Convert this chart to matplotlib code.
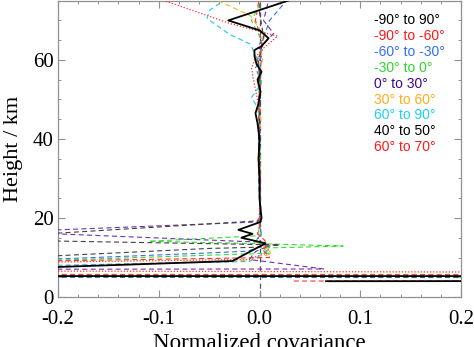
import numpy as np
import matplotlib
matplotlib.use("Agg")
import matplotlib.pyplot as plt
from matplotlib.ticker import MultipleLocator

# legend labels and colours
labels = ["-90° to 90°", "-90° to -60°", "-60° to -30°", "-30° to 0°", "0° to 30°",
          "30° to 60°", "60° to 90°", "40° to 50°", "60° to 70°"]
text_colors = ["black", "#ff1a1a", "#2f6ff5", "#2ed62e", "#3a0a90",
               "#ffae1a", "#1ed2f2", "black", "#ff1a1a"]
line_colors = ["black", "#ff3030", "#3070f0", "#33dd33", "#7030b0",
               "#ffb020", "#20c8f0", "#404040", "#ff3030"]

# height (km) / normalized covariance profiles
h1 = [4.0, 4.15, 5.25, 5.35, 5.45, 9.1, 13.6, 15.0, 16.0, 17.0, 19.0, 20.0, 25, 30, 35, 40, 44, 46.5,
      49, 52, 55, 57, 59, 61, 62.5, 63.5, 65.5, 67.5, 70, 76]
x1 = [0.066, 0.8, 3.0, -3.0, -0.45, -0.027, 0.006, -0.018, -0.007, -0.021, 0.001, 0.002, 0.0, 0.0,
      -0.001, 0.0, -0.002, -0.004, -0.001, 0.001, -0.002, 0.002, -0.003, -0.005, -0.005, 0.002,
      0.009, 0.0, -0.031, 0.04]

h2 = [6.0, 6.9, 9.5, 11, 12.5, 14, 16, 18, 20, 25, 30, 35, 40, 45, 50, 55, 58, 61, 63, 66, 69.2, 75.5]
x2 = [0.8, -0.8, -0.012, 0.006, 0.01, -0.004, 0.002, 0.0, 0.0, 0.001, 0.0, -0.001, 0.0, 0.001,
      -0.002, -0.006, -0.008, -0.003, 0.004, 0.018, -0.029, -0.1]

h3 = [4.9, 5.3, 6.6, 11.1, 11.6, 13, 14.5, 16, 18, 20, 25, 30, 35, 40, 45, 50, 55, 58, 61, 64, 67,
      70, 73, 76]
x3 = [1.2, -1.2, -0.5, -0.056, -0.012, 0.004, -0.003, 0.002, 0.0, 0.001, 0.0, -0.001, 0.0, 0.001,
      0.0, -0.001, 0.001, -0.004, 0.002, 0.0, 0.006, 0.01, 0.02, 0.03]

h4 = [5.2, 5.5, 8.5, 11.1, 12.4, 12.9, 13.5, 14.1, 15.5, 18, 20, 25, 30, 35, 40, 45, 50, 55, 60, 63,
      66, 70, 73, 76]
x4 = [1.0, -1.0, -0.3, 0.011, 0.003, 0.083, 0.0, -0.11, -0.002, 0.0, 0.001, 0.0, 0.0, 0.001, 0.0,
      -0.001, 0.0, 0.002, -0.003, 0.004, 0.0, -0.008, -0.002, 0.004]

h5 = [5.1, 5.4, 6.9, 7.1, 9.5, 11.5, 12.8, 13.9, 16.5, 19.0, 21, 25, 30, 35, 40, 45, 50, 55, 60, 63,
      66.7, 70, 76]
x5 = [1.0, -1.0, -0.8, 0.064, -0.01, -0.004, 0.008, 0.0, -0.25, -0.002, 0.0, 0.001, 0.0, -0.001,
      0.0, 0.001, 0.0, -0.001, 0.002, 0.0, 0.014, 0.004, 0.01]

h6 = [5.6, 5.9, 6.5, 9.3, 11, 12.6, 14, 16, 18, 20, 25, 30, 35, 40, 45, 50, 55, 60, 63, 66, 69,
      71.2, 75.5]
x6 = [1.5, -1.5, -0.4, -0.009, 0.012, 0.006, -0.004, 0.001, 0.0, 0.0, 0.001, 0.0, -0.001, 0.0,
      0.001, 0.0, -0.002, 0.003, 0.001, 0.005, -0.003, -0.009, -0.045]

h7 = [4.8, 5.1, 6.5, 9, 11, 12.5, 14, 16, 18, 20, 25, 30, 35, 40, 45, 48, 50.5, 53, 56, 60, 64, 66.5,
      70.5, 72.5, 76]
x7 = [1.2, -1.2, -0.5, -0.01, 0.004, 0.01, 0.0, 0.002, 0.0, 0.0, 0.001, 0.0, 0.0, -0.001, 0.0,
      -0.002, -0.008, -0.001, 0.002, -0.002, -0.009, -0.03, -0.052, -0.05, -0.03]

h8 = [4.9, 5.2, 8, 12.3, 12.6, 13.2, 14.6, 19.3, 21, 25, 30, 35, 40, 45, 50, 55, 60, 63, 66, 69, 72, 76]
x8 = [1.2, -1.2, -0.4, -0.05, -0.002, 0.02, -0.3, 0.0, 0.001, 0.0, 0.0, 0.0, -0.001, 0.0, 0.001,
      0.0, -0.001, 0.002, 0.004, 0.002, 0.0, 0.001]

h9 = [4.05, 4.15, 5.6, 5.7, 8.0, 10.0, 12.0, 13.0, 14.4, 16, 18, 20, 25, 30, 35, 40, 45, 50, 55, 60,
      63, 66, 70, 76]
x9 = [0.034, 1.0, 1.0, -1.0, -0.5, 0.01, 0.003, 0.008, 0.005, -0.002, 0.0, 0.0, 0.0, 0.001, 0.0,
      0.0, -0.001, 0.0, 0.001, -0.002, 0.003, 0.001, -0.004, 0.0]

heights = [h1, h2, h3, h4, h5, h6, h7, h8, h9]
values = [x1, x2, x3, x4, x5, x6, x7, x8, x9]

serif = "Liberation Serif"
fig = plt.figure(figsize=(4.74, 3.47), dpi=100)
ax = fig.add_axes([0.1224, 0.144, 0.8502, 0.854])

ax.axvline(0.0, color="#505050", lw=0.9, dashes=(4, 3), zorder=1)

# thin profiles first, the thick global one on top
order = [1, 2, 3, 4, 5, 6, 7, 8, 0]
for i in order:
    if i == 0:
        ax.plot(values[i], heights[i], color=line_colors[i], lw=1.3, zorder=5)
    elif i == 1:
        ax.plot(values[i], heights[i], color=line_colors[i], lw=0.9, dashes=(1, 1.5), zorder=3)
    else:
        ax.plot(values[i], heights[i], color=line_colors[i], lw=0.8, dashes=(4.5, 3), zorder=3)

ax.set_xlim(-0.2, 0.2)
ax.set_ylim(0, 75)
ax.xaxis.set_major_locator(MultipleLocator(0.1))
ax.xaxis.set_minor_locator(MultipleLocator(0.02))
ax.yaxis.set_major_locator(MultipleLocator(20))
ax.yaxis.set_minor_locator(MultipleLocator(5))
ax.set_xticklabels([f"{v:.1f}" for v in ax.get_xticks()])
ax.tick_params(which="both", direction="in", top=True, right=True, color="#909090")
ax.tick_params(which="major", length=5, width=0.8)
ax.tick_params(which="minor", length=2.5, width=0.7)
ax.tick_params(axis="x", pad=9, labelsize=15)
ax.tick_params(axis="y", pad=3, labelsize=15)
for lab in ax.get_xticklabels() + ax.get_yticklabels():
    lab.set_fontfamily(serif)
for sp in ax.spines.values():
    sp.set_color("#909090")
    sp.set_linewidth(0.9)

ax.set_ylabel("Height / km", fontsize=16, family=serif, labelpad=7)
ax.set_xlabel("Normalized covariance", fontsize=16.5, family=serif, labelpad=3)

for k, (lab, c) in enumerate(zip(labels, text_colors)):
    ax.text(0.784, 0.936 - k * 0.0539, lab, color=c, fontsize=10,
            family="Liberation Sans", transform=ax.transAxes, va="center", ha="left")

fig.savefig("out.png", dpi=100)
